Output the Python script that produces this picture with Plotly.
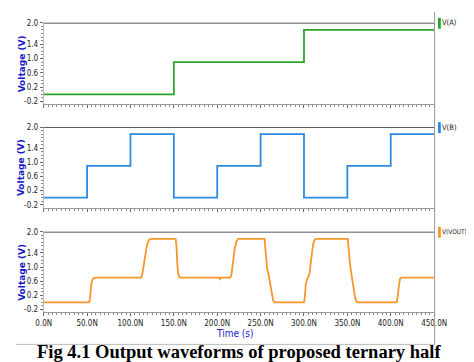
import plotly.graph_objects as go
from plotly.subplots import make_subplots

# ---- data (time in ns, voltage in V) ----
t_a = [0, 150, 300, 450]
v_a = [0.0, 0.9, 1.8, 1.8]

t_b = [0, 50, 100, 150, 200, 250, 300, 350, 400, 450]
v_b = [0.0, 0.9, 1.8, 0.0, 0.9, 1.8, 0.0, 0.9, 1.8, 1.8]

t_out = [0, 52, 53, 54, 55, 56.5, 58, 60,
         112, 113.5, 115, 117, 119, 121, 123,
         152, 153, 154, 155, 156.5, 158,
         202, 203, 204,
         215, 216.5, 218, 220, 222, 224,
         254.5, 255.5, 256.5, 257.5, 259, 261, 263, 264.5, 266,
         300, 301, 302, 303.5, 305, 306.5, 308.5, 310.5, 312.5, 314,
         350.5, 351.5, 353, 355, 357, 359, 361, 363,
         407, 408, 409, 410.5, 412, 450]
v_out = [0.0, 0.0, 0.05, 0.3, 0.55, 0.66, 0.69, 0.7,
         0.7, 0.78, 1.0, 1.35, 1.62, 1.76, 1.8,
         1.8, 1.6, 1.1, 0.8, 0.72, 0.7,
         0.7, 0.66, 0.7,
         0.7, 0.8, 1.1, 1.5, 1.72, 1.8,
         1.8, 1.55, 1.1, 0.95, 0.82, 0.5, 0.2, 0.05, 0.0,
         0.0, 0.15, 0.5, 0.65, 0.72, 0.85, 1.3, 1.65, 1.78, 1.8,
         1.8, 1.5, 1.1, 0.75, 0.4, 0.12, 0.01, 0.0,
         0.0, 0.2, 0.5, 0.66, 0.7, 0.7]

x_tickvals = [0, 50, 100, 150, 200, 250, 300, 350, 400, 450]
x_ticktext = ["0.0N", "50.0N", "100.0N", "150.0N", "200.0N", "250.0N",
              "300.0N", "350.0N", "400.0N", "450.0N"]
y_tickvals = [2.0, 1.4, 1.0, 0.6, 0.2, -0.2]
y_ticktext = ["2.0", "1.4", "1.0", "0.6", "0.2", "-0.2"]

names = ["V(A)", "V(B)", "V(VOUT)"]
colors = ["#2aa52a", "#2a8be0", "#f7962a"]
legend_sizes = [7.5, 7.5, 6.5]

W, H = 474, 362
NARROW = "Liberation Sans Narrow, DejaVu Sans Condensed, Arial Narrow, sans-serif"

fig = make_subplots(rows=3, cols=1, shared_xaxes=True)
series = [(t_a, v_a, "hv"), (t_b, v_b, "hv"), (t_out, v_out, "linear")]
for i, (tx, vy, shape) in enumerate(series):
    fig.add_trace(go.Scatter(x=tx, y=vy, mode="lines", name=names[i],
                             line=dict(color=colors[i], width=1.8, shape=shape),
                             showlegend=False), row=i + 1, col=1)

# panel geometry in pixels (top of 2.0 line, bottom axis line)
panels = [(11, 94), (117, 199), (223.5, 305.5)]
x0px, x1px = 29, 437.5
yrange = [-0.283, 2.0]

for i, (top, bot) in enumerate(panels):
    n = "" if i == 0 else str(i + 1)
    fig.layout["yaxis" + n].update(
        domain=[1 - bot / H, 1 - top / H], range=yrange,
        tickvals=y_tickvals, ticktext=y_ticktext, ticks="outside", ticklen=3,
        tickcolor="#666", showline=True, linecolor="#bbb", linewidth=1,
        showgrid=False, zeroline=False,
        tickfont=dict(family=NARROW, size=8, color="#222"),
        minor=dict(ticks="outside", ticklen=2, dtick=0.1, tickcolor="#888", showgrid=False),
    )
    fig.layout["xaxis" + n].update(
        domain=[x0px / W, x1px / W], range=[0, 450],
        tickvals=x_tickvals, ticktext=x_ticktext, ticks="outside", ticklen=3,
        tickcolor="#666", showline=True, linecolor="#999", linewidth=1,
        showgrid=False, zeroline=False,
        showticklabels=(i == 2),
        tickfont=dict(family=NARROW, size=8, color="#222"),
        minor=dict(ticks="outside", ticklen=2, dtick=5, tickcolor="#888", showgrid=False),
    )
    # top 2.0 reference line
    fig.add_shape(type="line", xref="paper", yref="y" + n,
                  x0=x0px / W, x1=438 / W, y0=2.0, y1=2.0,
                  line=dict(color="#222", width=1.5))
    # y-axis title
    fig.add_annotation(text="<b>Voltage (V)</b>", textangle=-90,
                       xref="paper", yref="paper",
                       x=6 / W, y=1 - ((top + bot) / 2) / H,
                       showarrow=False, xanchor="center", yanchor="middle",
                       font=dict(family="DejaVu Sans, sans-serif", size=9, color="#1a1acc"))
    # legend marker + label
    fig.add_shape(type="rect", xref="paper", yref="paper",
                  x0=441.5 / W, x1=444.5 / W, y0=1 - (top + 6) / H, y1=1 - (top - 5) / H,
                  fillcolor=colors[i], line=dict(width=0))
    fig.add_annotation(text=names[i], xref="paper", yref="paper",
                       x=445 / W, y=1 - top / H, showarrow=False,
                       xanchor="left", yanchor="middle", borderpad=0,
                       font=dict(family=NARROW, size=legend_sizes[i], color="#222"))

# frame lines
fig.add_shape(type="line", xref="paper", yref="paper",
              x0=438 / W, x1=438 / W, y0=1 - 338 / H, y1=1,
              line=dict(color="#999", width=1))
fig.add_shape(type="line", xref="paper", yref="paper",
              x0=0, x1=438 / W, y0=1 - 338 / H, y1=1 - 338 / H,
              line=dict(color="#bbb", width=1))

fig.add_annotation(text="Time (s)", xref="paper", yref="paper",
                   x=229 / W, y=1 - 327 / H, showarrow=False,
                   xanchor="center", yanchor="middle",
                   font=dict(family=NARROW, size=10, color="#1a1acc"))

fig.add_annotation(text="<b>Fig 4.1 Output waveforms of proposed ternary half</b>",
                   xref="paper", yref="paper",
                   x=233 / W, y=1 - 346 / H, showarrow=False,
                   xanchor="center", yanchor="middle", borderpad=0,
                   font=dict(family="Liberation Serif, Times New Roman, serif", size=18.5, color="#000"))

fig.update_layout(width=W, height=H, margin=dict(l=0, r=0, t=0, b=0),
                  paper_bgcolor="white", plot_bgcolor="white", showlegend=False)

fig.write_html("out.html")
